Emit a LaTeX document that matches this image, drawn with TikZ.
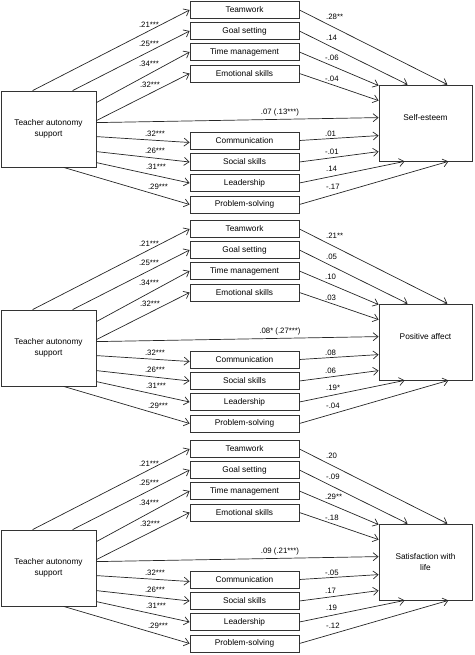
\documentclass[tikz,border=0pt]{standalone}
\usepackage{fontspec}
\setmainfont{Liberation Sans}
\usetikzlibrary{arrows.meta}
\tikzset{
  mid/.style={draw=black!80, line width=0.8pt, minimum width=109pt, minimum height=17pt, inner sep=0pt, font=\fontsize{8.3}{10}\selectfont},
  big/.style={draw=black!80, line width=0.8pt, inner sep=0pt, align=center, font=\fontsize{8.3}{11}\selectfont},
  conn/.style={draw=black!85, line width=0.7pt, -{Straight Barb[length=5pt,width=8pt]}},
  lab/.style={font=\fontsize{7.8}{9}\selectfont, inner sep=0pt},
}
\newcommand\panel[3]{%
  \node[big, minimum width=95pt, minimum height=76pt] (L#1) at (48.5,129) {Teacher autonomy\\support};
  \node[big, minimum width=93pt, minimum height=76pt] (R#1) at (425.5,123) {#2};
  \node[mid] (T#1) at (244.5,10) {Teamwork};
  \node[mid] (G#1) at (244.5,31) {Goal setting};
  \node[mid] (M#1) at (244.5,52) {Time management};
  \node[mid] (E#1) at (244.5,73.5) {Emotional skills};
  \node[mid] (C#1) at (244.5,140.5) {Communication};
  \node[mid] (S#1) at (244.5,162) {Social skills};
  \node[mid] (D#1) at (244.5,183) {Leadership};
  \node[mid] (P#1) at (244.5,204.5) {Problem-solving};
  % left arrows
  \draw[conn] ([xshift=32pt]L#1.north west) -- (T#1.west);
  \draw[conn] ([xshift=72pt]L#1.north west) -- (G#1.west);
  \draw[conn] ([yshift=-12pt]L#1.north east) -- (M#1.west);
  \draw[conn] ([yshift=-30pt]L#1.north east) -- (E#1.west);
  \draw[conn] ([yshift=-32pt]L#1.north east) -- ([yshift=-33pt]R#1.north west);
  \draw[conn] ([yshift=-46pt]L#1.north east) -- ([yshift=-2pt]C#1.west);
  \draw[conn] ([yshift=-61pt]L#1.north east) -- (S#1.west);
  \draw[conn] ([yshift=-72pt]L#1.north east) -- (D#1.west);
  \draw[conn] ([xshift=63pt]L#1.south west) -- (P#1.west);
  % right arrows
  \draw[conn] (T#1.east) -- ([xshift=-25pt]R#1.north east);
  \draw[conn] (G#1.east) -- ([xshift=29pt]R#1.north west);
  \draw[conn] (M#1.east) -- ([yshift=-1pt]R#1.north west);
  \draw[conn] (E#1.east) -- ([yshift=-16pt]R#1.north west);
  \draw[conn] (C#1.east) -- ([yshift=-51pt]R#1.north west);
  \draw[conn] (S#1.east) -- ([yshift=-67pt]R#1.north west);
  \draw[conn] (D#1.east) -- ([xshift=26pt]R#1.south west);
  \draw[conn] (P#1.east) -- ([xshift=-24pt]R#1.south east);
  % left labels
  \node[lab] (la#1) at (149,25) {.21***};
  \node[lab] (lb#1) at (149,44) {.25***};
  \node[lab] (lc#1) at (149,64) {.34***};
  \node[lab] (ld#1) at (150,85) {.32***};
  \node[lab] (le#1) at (155,134) {.32***};
  \node[lab] (lf#1) at (155,151) {.26***};
  \node[lab] (lg#1) at (156,167) {.31***};
  \node[lab] (lh#1) at (158,187) {.29***};
  \node[lab] (dl#1) at (280,112) {#3};
}
\newcommand\rlabels[9]{%
  \node[lab, anchor=west] (ra#1) at (326,17) {#2};
  \node[lab, anchor=west] (rb#1) at (326,38) {#3};
  \node[lab, anchor=west] (rc#1) at (325,58) {#4};
  \node[lab, anchor=west] (rd#1) at (325,79) {#5};
  \node[lab, anchor=west] (re#1) at (325,134) {#6};
  \node[lab, anchor=west] (rf#1) at (325,152) {#7};
  \node[lab, anchor=west] (rg#1) at (326,169) {#8};
  \node[lab, anchor=west] (rh#1) at (326,187) {#9};
}
\begin{document}
\begin{tikzpicture}[x=1pt,y=-1pt]
\useasboundingbox (0,0) rectangle (474,655);
\begin{scope}
  \panel{a}{Self-esteem\\\mbox{}}{.07 (.13***)}
  \rlabels{a}{.28**}{.14}{-.06}{-.04}{.01}{-.01}{.14}{-.17}
\end{scope}
\begin{scope}[yshift=-219pt]
  \panel{b}{Positive affect\\\mbox{}}{.08* (.27***)}
  \rlabels{b}{.21**}{.05}{.10}{.03}{.08}{.06}{.19*}{-.04}
\end{scope}
\begin{scope}[yshift=-439pt]
  \panel{c}{Satisfaction with\\life}{.09 (.21***)}
  \rlabels{c}{.20}{-.09}{.29**}{-.18}{-.05}{.17}{.19}{-.12}
\end{scope}
\end{tikzpicture}
\end{document}
